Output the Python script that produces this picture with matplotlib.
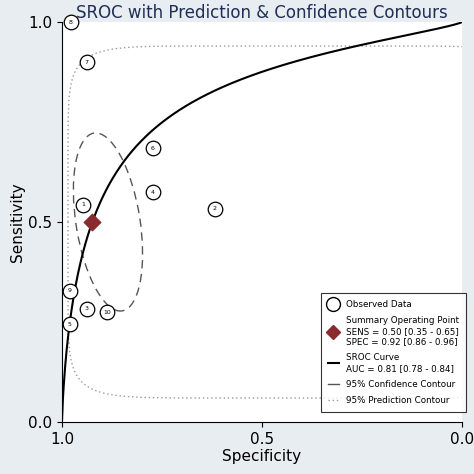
import numpy as np
import matplotlib.pyplot as plt
from matplotlib.patches import Ellipse
from matplotlib.lines import Line2D

# observed studies
study = ["1", "2", "3", "4", "5", "6", "7", "8", "9", "10"]
spec = [0.948, 0.618, 0.938, 0.773, 0.980, 0.773, 0.938, 0.978, 0.980, 0.888]
sens = [0.543, 0.533, 0.283, 0.575, 0.245, 0.685, 0.900, 1.000, 0.328, 0.275]

# summary point
sum_spec, sum_sens = 0.925, 0.50

# SROC curve parameters (logit(sens) = a + b*logit(fpr))
sroc_a, sroc_b = 1.95, 0.78

# confidence ellipse (spec, sens, width, height, angle)
conf_center = (0.885, 0.50)
conf_w, conf_h, conf_ang = 0.16, 0.45, -9

# prediction contour (superellipse)
pred_center = (0.40, 0.50)
pred_hw, pred_hh, pred_pow = 0.585, 0.44, 9

bg = "#e8edf2"
fig = plt.figure(figsize=(4.74, 4.74), dpi=100, facecolor=bg)
ax = fig.add_axes([62/474, 52/474, 400/474, 400/474])
ax.set_facecolor("white")

# prediction contour
t = np.linspace(0, 2*np.pi, 600)
px = pred_center[0] + pred_hw*np.sign(np.cos(t))*np.abs(np.cos(t))**(2/pred_pow)
py = pred_center[1] + pred_hh*np.sign(np.sin(t))*np.abs(np.sin(t))**(2/pred_pow)
ax.plot(px, py, color="#999999", ls=(0, (1, 2)), lw=1.0)

# confidence contour
ax.add_patch(Ellipse(conf_center, conf_w, conf_h, angle=conf_ang, fill=False,
                     ec="#555555", ls=(0, (6, 4)), lw=1.0))

# SROC curve
fpr = np.linspace(1e-4, 1, 500)
lg = sroc_a + sroc_b*np.log(fpr/(1-fpr+1e-12))
ax.plot(1-fpr, 1/(1+np.exp(-lg)), color="black", lw=1.5)

ax.scatter(spec, sens, s=110, facecolor="white", edgecolor="black", lw=0.9, zorder=4, clip_on=False)
for s_, x, y in zip(study, spec, sens):
    ax.text(x, y, s_, fontsize=4.5, ha="center", va="center", zorder=5)

ax.scatter([sum_spec], [sum_sens], marker="D", s=70, color="#8b2a2e", zorder=6)

ax.set_xlim(1, 0)
ax.set_ylim(0, 1)
ax.set_xticks([1.0, 0.5, 0.0])
ax.set_yticks([0.0, 0.5, 1.0])
ax.set_xticklabels(["1.0", "0.5", "0.0"], fontsize=11)
ax.set_yticklabels(["0.0", "0.5", "1.0"], fontsize=11)
for sp in ["top", "right"]:
    ax.spines[sp].set_visible(False)
ax.set_xlabel("Specificity", fontsize=11, labelpad=2)
ax.set_ylabel("Sensitivity", fontsize=11, labelpad=2)
ax.set_title("SROC with Prediction & Confidence Contours", fontsize=12, color="#1f2f55", pad=2)

handles = [
    Line2D([], [], marker="o", ls="", mfc="white", mec="black", ms=10),
    Line2D([], [], marker="D", ls="", color="#8b2a2e", ms=7),
    Line2D([], [], color="black", lw=1.5),
    Line2D([], [], color="#555555", lw=1.0),
    Line2D([], [], color="#999999", ls=(0, (1, 2)), lw=1.0),
]
labels = [
    "Observed Data",
    "Summary Operating Point\nSENS = 0.50 [0.35 - 0.65]\nSPEC = 0.92 [0.86 - 0.96]",
    "SROC Curve\nAUC = 0.81 [0.78 - 0.84]",
    "95% Confidence Contour",
    "95% Prediction Contour",
]
leg = ax.legend(handles, labels, loc="lower right", bbox_to_anchor=(1.02, 0.015),
                fontsize=6.3, frameon=True, fancybox=False, edgecolor="black",
                handlelength=1.2, labelspacing=0.8, borderpad=0.8)
leg.get_frame().set_linewidth(0.8)

fig.savefig("out.png", dpi=100, facecolor=bg)
